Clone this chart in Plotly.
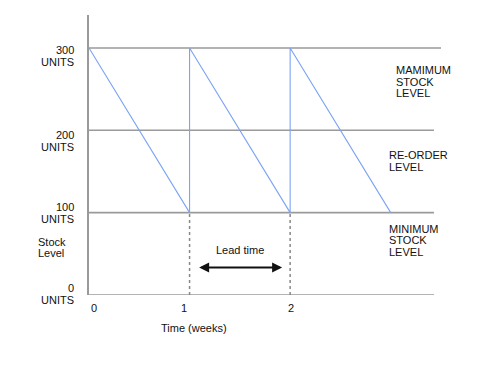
import plotly.graph_objects as go

# ---- data ----
saw_x = [0, 1, 1, 2, 2, 3]
saw_y = [300, 100, 300, 100, 300, 100]
levels = [300, 200, 100, 0]
level_ends = [3.5, 3.43, 3.43, 3.43]
y_labels = [["300", "UNITS"], ["200", "UNITS"], ["100", "UNITS"], ["0", "UNITS"]]
x_ticks = [0, 1, 2]
x_ticklabels = ["0", "1", "2"]
lead_start, lead_end = 1, 2
reorder_points = [1, 2]
min_level = 100
right_labels = [
    (300, ["MAMIMUM", "STOCK", "LEVEL"]),
    (200, ["RE-ORDER", "LEVEL"]),
    (100, ["MINIMUM", "STOCK", "LEVEL"]),
]

FONT = "Liberation Sans, Arial, Helvetica, sans-serif"
TXT = "#111111"
GRAY = "#9a9a9a"

fig = go.Figure()

# horizontal level lines
for lv, xe in zip(levels, level_ends):
    fig.add_shape(type="line", xref="x", yref="y", x0=0, x1=xe, y0=lv, y1=lv,
                  line=dict(color=GRAY, width=1.6), layer="below")

# dotted lead-time lines
for rp in reorder_points:
    fig.add_shape(type="line", xref="x", yref="y", x0=rp, x1=rp, y0=0, y1=min_level,
                  line=dict(color="#888888", width=1.5, dash="dot"))

# sawtooth stock line
fig.add_trace(go.Scatter(x=saw_x, y=saw_y, mode="lines",
                         line=dict(color="#7aa3f5", width=1.1),
                         hoverinfo="skip", showlegend=False))

annotations = []
LH = 11.7
# y labels
yshift_base = [-8, -10.5, 0, 1]
for lv, lines, ys in zip(levels, y_labels, yshift_base):
    n = len(lines)
    for i, t in enumerate(lines):
        off = ys + ((n - 1) / 2 - i) * LH
        annotations.append(dict(x=0, y=lv, xref="x", yref="y", text=t, showarrow=False,
                                xanchor="right", yanchor="middle", xshift=-13, yshift=off,
                                font=dict(family=FONT, size=11, color=TXT)))

# Stock Level
for i, t in enumerate(["Stock", "Level"]):
    annotations.append(dict(x=0, y=min_level, xref="x", yref="y", text=t, showarrow=False,
                            xanchor="left", yanchor="middle", xshift=-53,
                            yshift=-29 - i * LH,
                            font=dict(family=FONT, size=11, color=TXT)))

# x tick labels
for xv, t, xs in zip(x_ticks, x_ticklabels, [5, -6, 1]):
    annotations.append(dict(x=xv, y=0, xref="x", yref="y", text=t, showarrow=False,
                            xanchor="center", yanchor="middle", xshift=xs, yshift=-13,
                            font=dict(family=FONT, size=11, color=TXT)))

annotations.append(dict(x=1.04, y=0, xref="x", yref="y", text="Time (weeks)", showarrow=False,
                        xanchor="center", yanchor="middle", yshift=-33,
                        font=dict(family=FONT, size=11, color=TXT)))

# right side labels
right_pos = [(3.03, -22), (2.96, -25), (2.96, -16)]
for (lv, lines), (xp, ys) in zip(right_labels, right_pos):
    for i, t in enumerate(lines):
        annotations.append(dict(x=xp, y=lv, xref="x", yref="y", text=t, showarrow=False,
                                xanchor="left", yanchor="middle", yshift=ys - i * LH,
                                font=dict(family=FONT, size=11, color=TXT)))

# lead time arrow
arrow_y = min_level / 3
annotations.append(dict(x=lead_end - 0.08, y=arrow_y, ax=lead_start + 0.08, ay=arrow_y,
                        xref="x", yref="y", axref="x", ayref="y", text="", showarrow=True,
                        arrowhead=2, arrowside="end+start", arrowsize=1, arrowwidth=2,
                        arrowcolor="#111111"))
annotations.append(dict(x=(lead_start + lead_end) / 2, y=arrow_y, xref="x", yref="y",
                        text="Lead time", showarrow=False, xanchor="center", yanchor="middle",
                        yshift=18, font=dict(family=FONT, size=11, color=TXT)))

fig.update_layout(
    width=500, height=375,
    margin=dict(l=89, r=59, t=15, b=80),
    paper_bgcolor="white", plot_bgcolor="white",
    showlegend=False,
    annotations=annotations,
    xaxis=dict(range=[0, 3.5], showgrid=False, zeroline=False, showticklabels=False,
               ticks="", showline=False, fixedrange=True),
    yaxis=dict(range=[0, 340], showgrid=False, zeroline=False, showticklabels=False,
               ticks="", showline=True, linecolor=GRAY, linewidth=1.6, fixedrange=True),
)

fig.write_html("out.html", config={"displayModeBar": False})
